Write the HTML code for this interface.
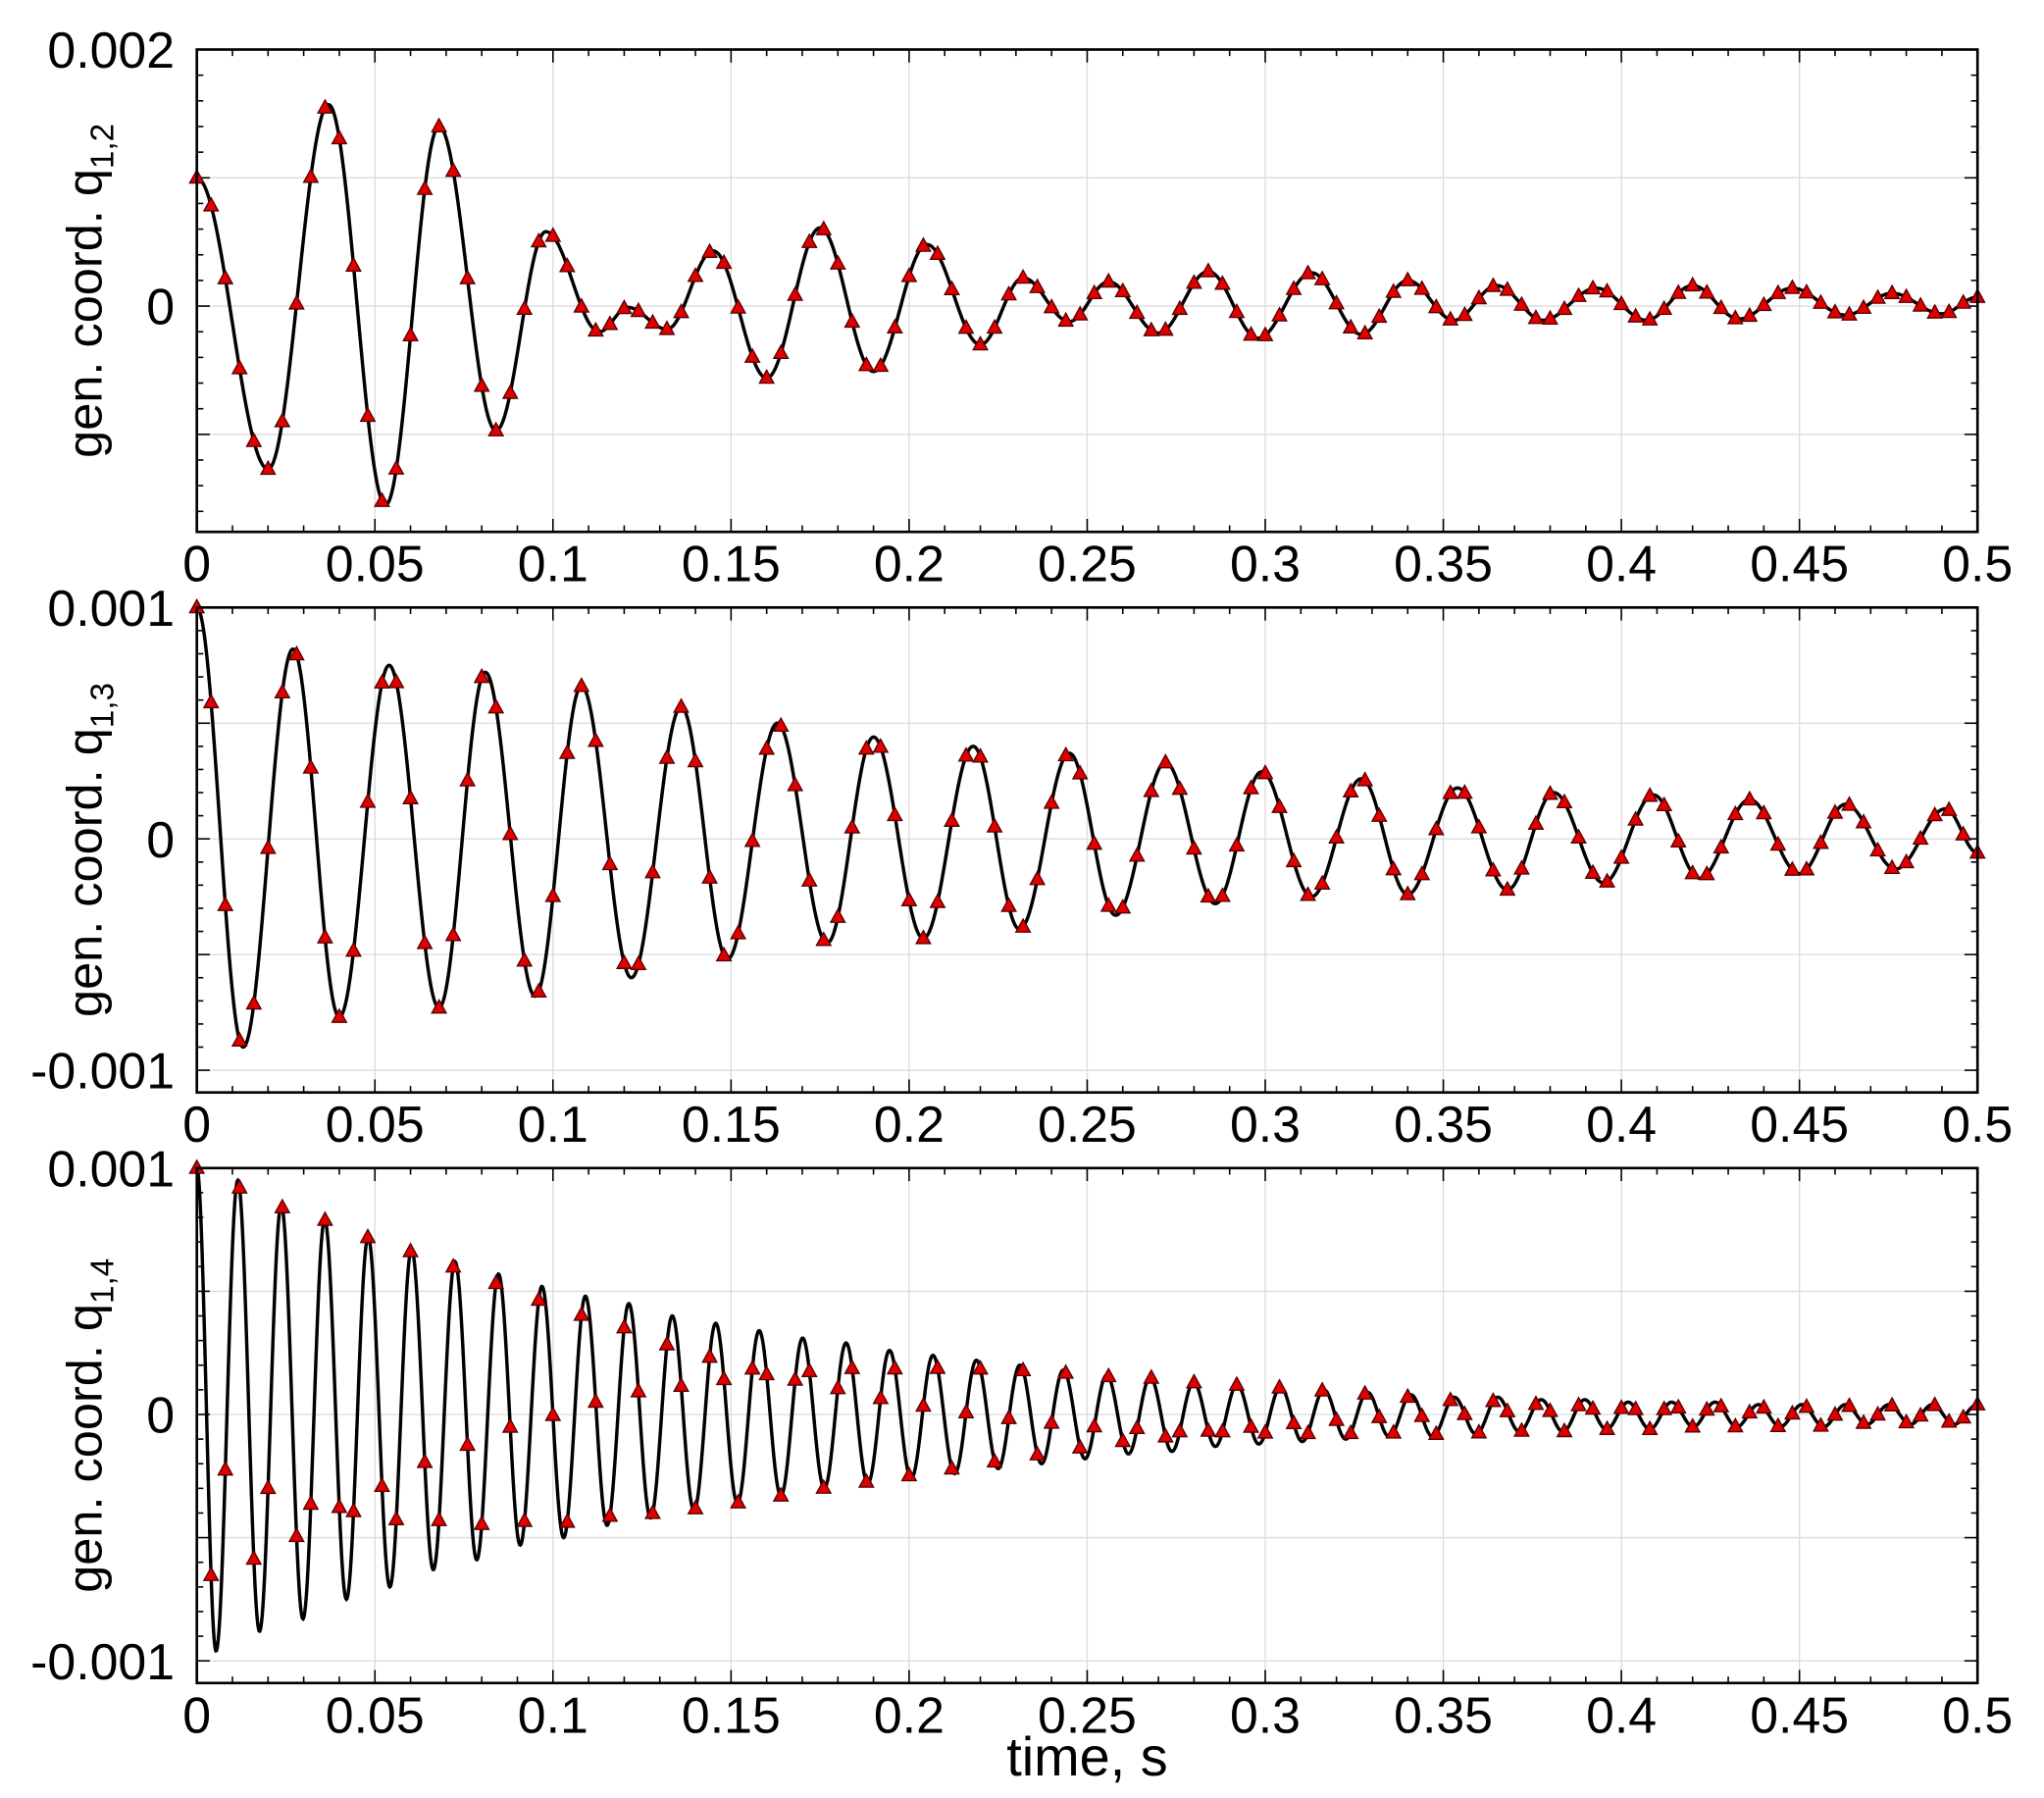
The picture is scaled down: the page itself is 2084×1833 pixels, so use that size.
<!DOCTYPE html>
<html><head><meta charset="utf-8"><style>
html,body{margin:0;padding:0;background:#fff;}
svg{display:block;font-family:"Liberation Sans",sans-serif;}
</style></head><body>
<svg id="chart" width="2084" height="1833" viewBox="0 0 1568 1379.2" preserveAspectRatio="none" xmlns="http://www.w3.org/2000/svg"></svg>
<script>
// ---- data ----
const xTicks = [0,0.05,0.1,0.15,0.2,0.25,0.3,0.35,0.4,0.45,0.5];
const xTickLabels = ["0","0.05","0.1","0.15","0.2","0.25","0.3","0.35","0.4","0.45","0.5"];
// panel 1 extrema
const p1Times = [0,0.02,0.037,0.053,0.068,0.084,0.098,0.113,0.121,0.132,0.145,0.16,0.175,0.19,0.205,0.22,0.232,0.245,0.256,0.27,0.284,0.298,0.313,0.327,0.34,0.353,0.365,0.378,0.393,0.407,0.42,0.433,0.448,0.463,0.476,0.49,0.5];
const p1Values = [0.001,-0.00127,0.00157,-0.00155,0.0014,-0.00097,0.00058,-0.0002,-0.00001,-0.00018,0.00043,-0.00056,0.00061,-0.00051,0.00048,-0.0003,0.00022,-0.00012,0.00019,-0.00021,0.00027,-0.00025,0.00026,-0.00022,0.0002,-0.00011,0.00016,-0.00011,0.00014,-0.00011,0.00016,-0.0001,0.00014,-0.00007,0.0001,-0.00006,0.00007];
// panel 2 extrema
const p2Times = [0,0.013,0.027,0.04,0.054,0.068,0.081,0.095,0.108,0.122,0.136,0.149,0.163,0.177,0.19,0.204,0.218,0.231,0.245,0.258,0.272,0.286,0.299,0.313,0.327,0.34,0.354,0.368,0.381,0.395,0.409,0.422,0.436,0.45,0.463,0.477,0.491,0.5];
const p2Values = [0.001,-0.0009,0.00082,-0.00077,0.00075,-0.00073,0.00072,-0.00068,0.00066,-0.0006,0.00057,-0.00052,0.0005,-0.00045,0.00044,-0.00043,0.0004,-0.00039,0.00037,-0.00033,0.00033,-0.00028,0.00029,-0.00025,0.00026,-0.00024,0.00022,-0.00022,0.0002,-0.00019,0.00019,-0.00017,0.00017,-0.00015,0.00015,-0.00013,0.00013,-0.00006];
// panel 3 extrema
const p3PeakTimes = [0.0115,0.0237,0.0359,0.0481,0.0603,0.0725,0.0847,0.0969,0.1091,0.1213,0.1335,0.1457,0.1579,0.1701,0.1823,0.1945,0.2067,0.2189,0.2311,0.2433,0.2555,0.2677,0.2799,0.2921,0.3043,0.3165,0.3287,0.3409,0.3531,0.3653,0.3775,0.3897,0.4019,0.4141,0.4263,0.4385,0.4507,0.4629,0.4751,0.4873];
const p3PeakValues = [0.00095,0.00085,0.00079,0.00072,0.00067,0.00062,0.00057,0.00052,0.00048,0.00045,0.0004,0.00037,0.00034,0.00031,0.00029,0.00026,0.00024,0.00022,0.0002,0.00018,0.00016,0.00015,0.00013,0.00012,0.00011,0.0001,0.00009,0.00008,0.00007,0.00007,0.00006,0.00006,0.00005,0.00005,0.00005,0.00004,0.00004,0.00004,0.00004,0.00004];
const p3TroughTimes = [0.0054,0.0176,0.0298,0.042,0.0542,0.0664,0.0786,0.0908,0.103,0.1152,0.1274,0.1396,0.1518,0.164,0.1762,0.1884,0.2006,0.2128,0.225,0.2372,0.2494,0.2616,0.2738,0.286,0.2982,0.3104,0.3226,0.3348,0.347,0.3592,0.3714,0.3836,0.3958,0.408,0.4202,0.4324,0.4446,0.4568,0.469,0.4812,0.4934];
const p3TroughValues = [-0.00096,-0.00088,-0.00083,-0.00075,-0.0007,-0.00063,-0.00059,-0.00053,-0.0005,-0.00045,-0.00042,-0.00039,-0.00036,-0.00033,-0.0003,-0.00028,-0.00026,-0.00024,-0.00022,-0.0002,-0.00018,-0.00016,-0.00015,-0.00013,-0.00012,-0.00011,-0.0001,-0.00009,-0.00009,-0.00008,-0.00007,-0.00007,-0.00006,-0.00006,-0.00005,-0.00005,-0.00005,-0.00005,-0.00004,-0.00004,-0.00004];
const p3Start = [0,0.001];
const p3End = [0.5,0.00004];
const markerStep = 0.004;

const NS="http://www.w3.org/2000/svg";
const svg=document.getElementById('chart');
function mk(tag,attrs,parent){const e=document.createElementNS(NS,tag);for(const k in attrs)e.setAttribute(k,attrs[k]);(parent||svg).appendChild(e);return e;}

function merge3(){
  const pts=[p3Start];
  p3PeakTimes.forEach((t,i)=>pts.push([t,p3PeakValues[i]]));
  p3TroughTimes.forEach((t,i)=>pts.push([t,p3TroughValues[i]]));
  pts.push(p3End);
  pts.sort((a,b)=>a[0]-b[0]);
  return {t:pts.map(p=>p[0]),v:pts.map(p=>p[1])};
}
function evalAt(T,V,t){
  for(let i=0;i<T.length-1;i++){
    if(t<=T[i+1]){const u=(t-T[i])/(T[i+1]-T[i]);return V[i]+(V[i+1]-V[i])*(1-Math.cos(Math.PI*u))/2;}
  }
  return V[V.length-1];
}
const m3=merge3();
const panels=[
 {name:'q12',sub:'1,2',T:p1Times,V:p1Values,top:38,bot:408,ymax:0.002,ymin:-0.00176,yLab:[[0.002,'0.002'],[0,'0']],grid:[0.001,-0.001],minor:0.0002},
 {name:'q13',sub:'1,3',T:p2Times,V:p2Values,top:466,bot:838,ymax:0.001,ymin:-0.001096,yLab:[[0.001,'0.001'],[0,'0'],[-0.001,'-0.001']],grid:[0.0005,-0.0005],minor:0.0001},
 {name:'q14',sub:'1,4',T:m3.t,V:m3.v,top:896,bot:1291,ymax:0.001,ymin:-0.00109,yLab:[[0.001,'0.001'],[0,'0'],[-0.001,'-0.001']],grid:[0.0005,-0.0005],minor:0.0001}
];
const L=151,R=1517;
const xs=t=>L+(t-0)/(0.5)*(R-L);
panels.forEach((p,pi)=>{
  const g=mk('g',{});
  
  
  const ys=v=>p.top+(p.ymax-v)/(p.ymax-p.ymin)*(p.bot-p.top);
  xTicks.forEach(t=>{if(t>0&&t<0.5){const l=mk('line',{x1:xs(t),x2:xs(t),y1:p.top,y2:p.bot,stroke:'#dcdcdc','stroke-width':1},g);}});
  const yg=p.grid.concat(p.yLab.map(a=>a[0]).filter(v=>v<p.ymax&&v>p.ymin));
  yg.forEach(v=>{const l=mk('line',{x1:L,x2:R,y1:ys(v),y2:ys(v),stroke:'#dcdcdc','stroke-width':1},g);});
  for(let t=0;t<=0.5001;t+=0.01){const len=(Math.abs(t/0.05-Math.round(t/0.05))<1e-6)?10:5;mk('line',{x1:xs(t),x2:xs(t),y1:p.bot,y2:p.bot-len,stroke:'#000','stroke-width':1.2},g);mk('line',{x1:xs(t),x2:xs(t),y1:p.top,y2:p.top+len,stroke:'#000','stroke-width':1.2},g);}
  for(let v=Math.ceil(p.ymin/p.minor)*p.minor;v<=p.ymax+1e-12;v+=p.minor){const major=p.yLab.some(a=>Math.abs(a[0]-v)<1e-9)||p.grid.some(a=>Math.abs(a-v)<1e-9);const len=major?10:5;mk('line',{x1:L,x2:L+len,y1:ys(v),y2:ys(v),stroke:'#000','stroke-width':1.2},g);mk('line',{x1:R,x2:R-len,y1:ys(v),y2:ys(v),stroke:'#000','stroke-width':1.2},g);}
  let d='';
  for(let i=0;i<=3000;i++){const t=0.5*i/3000;d+=(i?'L':'M')+xs(t).toFixed(2)+','+ys(evalAt(p.T,p.V,t)).toFixed(2);}
  const c=mk('path',{d:d,fill:'none',stroke:'#000','stroke-width':2.6},g);
  
  
  for(let t=0;t<=0.5+1e-9;t+=markerStep){
    const x=xs(t),y=ys(evalAt(p.T,p.V,t));
    const m=mk('polygon',{points:`${x},${y-6} ${x-5.5},${y+4} ${x+5.5},${y+4}`,fill:'#e00000',stroke:'#500','stroke-width':1},g);
    
    
  }
  const f=mk('rect',{x:L,y:p.top,width:R-L,height:p.bot-p.top,fill:'none',stroke:'#000','stroke-width':2},g);
  
  
  xTicks.forEach((t,i)=>{const tx=mk('text',{x:xs(t),y:p.bot+38,'text-anchor':'middle','font-size':39},g);tx.textContent=xTickLabels[i];});
  p.yLab.forEach(a=>{const tx=mk('text',{x:134,y:ys(a[0])+14,'text-anchor':'end','font-size':39},g);tx.textContent=a[1];});
  const cy=(p.top+p.bot)/2;
  const tt=mk('text',{x:0,y:0,'text-anchor':'middle','font-size':38,transform:`translate(78,${cy}) rotate(-90)`},g);
  
  
  tt.appendChild(document.createTextNode('gen. coord. q'));
  const ts=document.createElementNS(NS,'tspan');ts.setAttribute('font-size',25);ts.setAttribute('dy',9);ts.textContent=p.sub;tt.appendChild(ts);
});
const xt=mk('text',{x:834,y:1362,'text-anchor':'middle','font-size':42});
xt.textContent='time, s';


</script>
</body></html>
